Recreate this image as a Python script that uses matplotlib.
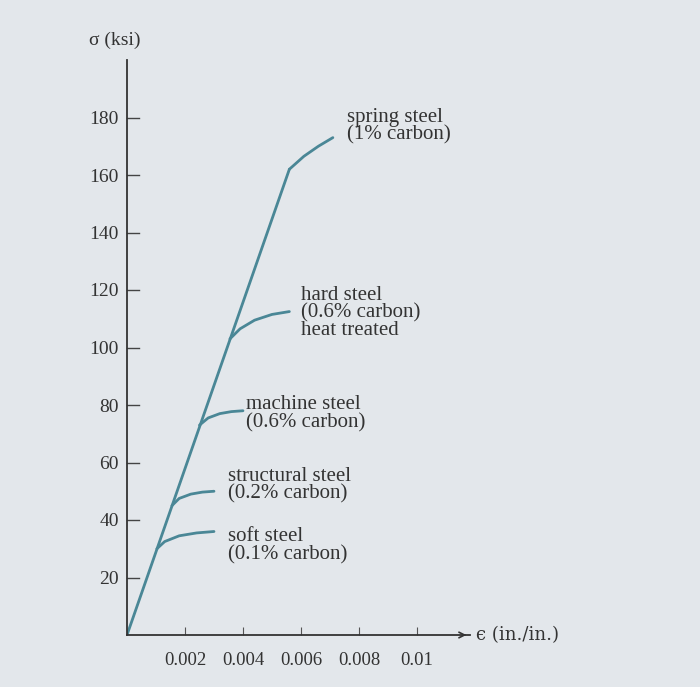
import matplotlib
matplotlib.use("Agg")
import matplotlib.pyplot as plt
import numpy as np

# strain (in./in.) and stress (ksi)
elastic_x = [0.0, 0.0056]
elastic_y = [0.0, 162]
soft_x = [0.00103, 0.0013, 0.0018, 0.0024, 0.003]
soft_y = [30, 32.5, 34.5, 35.5, 36]
struct_x = [0.00155, 0.0018, 0.0022, 0.0026, 0.003]
struct_y = [45, 47.5, 49, 49.7, 50]
machine_x = [0.0025, 0.0028, 0.0032, 0.0036, 0.004]
machine_y = [73, 75.5, 77, 77.7, 78]
hard_x = [0.00355, 0.0039, 0.0044, 0.005, 0.0056]
hard_y = [103, 106.5, 109.5, 111.5, 112.5]
spring_x = [0.0056, 0.0061, 0.0066, 0.0071]
spring_y = [162, 166.5, 170, 173]
yticks = [20, 40, 60, 80, 100, 120, 140, 160, 180]
xticks = [0.002, 0.004, 0.006, 0.008, 0.01]
xticklabels = ["0.002", "0.004", "0.006", "0.008", "0.01"]

plt.rcParams['font.family'] = ['Liberation Serif', 'DejaVu Serif']
bg = '#e3e7eb'
col = '#4a8796'
fig = plt.figure(figsize=(7, 6.87), dpi=100, facecolor=bg)
ax = fig.add_axes([127/700, 52/687, 343/700, 575/687], facecolor=bg)
ax.set_xlim(0, 0.01183)
ax.set_ylim(0, 200)
for xs, ys in [(elastic_x, elastic_y), (soft_x, soft_y), (struct_x, struct_y),
               (machine_x, machine_y), (hard_x, hard_y), (spring_x, spring_y)]:
    ax.plot(xs, ys, color=col, lw=2, solid_capstyle='round')

for s in ['top', 'right']:
    ax.spines[s].set_visible(False)
for s in ['left', 'bottom']:
    ax.spines[s].set_color('#333333')
    ax.spines[s].set_linewidth(1.3)
ax.set_yticks(yticks)
ax.set_yticklabels([str(v) for v in yticks], fontsize=14, color='#333333')
ax.set_xticks(xticks)
ax.set_xticklabels(xticklabels, fontsize=13.5, color='#333333')
ax.tick_params(axis='y', direction='out', length=0, pad=6)
ax.tick_params(axis='x', direction='in', length=6, color='#555555', pad=12)
for v in yticks:
    ax.plot([0, 0.0004], [v, v], color='#444444', lw=1, clip_on=False)
ax.annotate('', xy=(0.0118, 0), xytext=(0.0115, 0),
            arrowprops=dict(arrowstyle='->', color='#333333', lw=1.2), annotation_clip=False)
ax.text(0.01205, 0, '\u03f5 (in./in.)', fontsize=13, color='#333333', va='center',
        family=['DejaVu Serif'])
ax.text(-0.0013, 207, '\u03c3 (ksi)', fontsize=14, color='#333333', va='center', clip_on=False)

tk = dict(fontsize=15, color='#333333', linespacing=0.9)
ax.text(0.0076, 177, 'spring steel\n(1% carbon)', va='center', **tk)
ax.text(0.006, 112, 'hard steel\n(0.6% carbon)\nheat treated', va='center', **tk)
ax.text(0.0041, 77, 'machine steel\n(0.6% carbon)', va='center', **tk)
ax.text(0.0035, 52, 'structural steel\n(0.2% carbon)', va='center', **tk)
ax.text(0.0035, 31, 'soft steel\n(0.1% carbon)', va='center', **tk)
fig.savefig('out.png', dpi=100, facecolor=bg)
